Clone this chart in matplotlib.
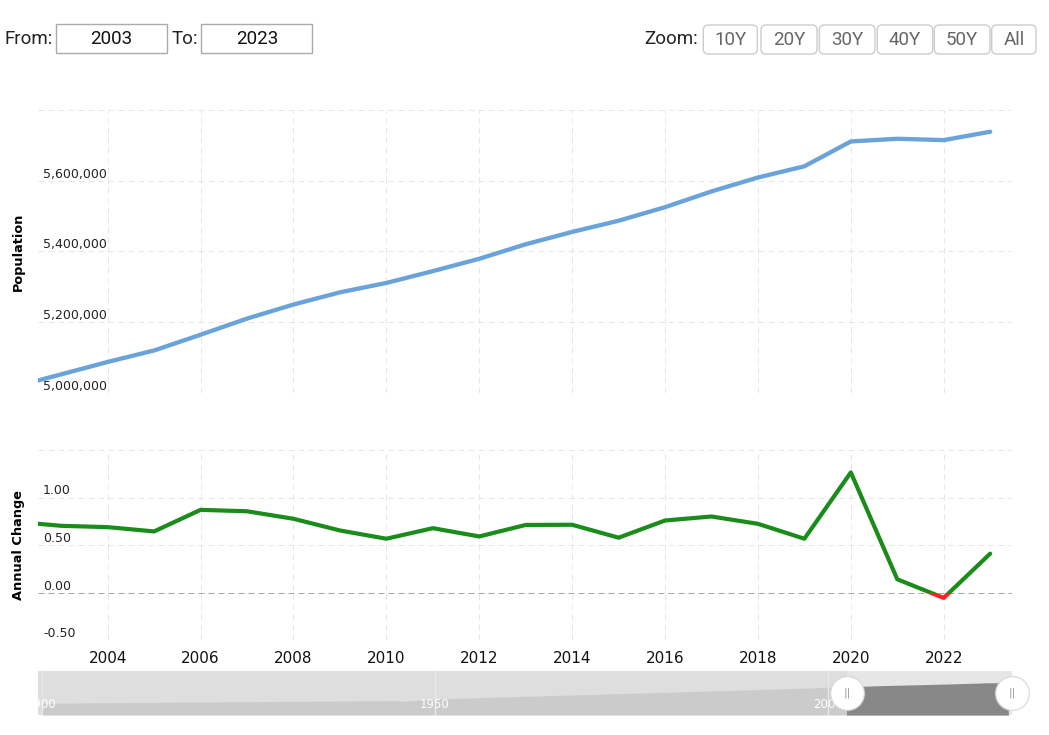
import matplotlib
matplotlib.use("Agg")
import matplotlib.pyplot as plt
from matplotlib.patches import Rectangle, FancyBboxPatch

# ---------------- data ----------------
years = list(range(2002, 2024))
population = [5017000, 5052000, 5087000, 5119500, 5164000, 5209700, 5249500,
              5284000, 5310600, 5344000, 5379000, 5420000, 5455000, 5486600,
              5525000, 5569600, 5609000, 5640700, 5711000, 5718600, 5714700,
              5738500]
annual_change = [0.745, 0.702, 0.688, 0.643, 0.870, 0.855, 0.776, 0.653,
                 0.566, 0.677, 0.590, 0.711, 0.713, 0.577, 0.758, 0.800,
                 0.723, 0.566, 1.264, 0.139, -0.057, 0.409]

# navigator history (long range series)
nav_hist_years = [1900, 1910, 1920, 1930, 1940, 1945, 1946, 1950, 1960,
                  1970, 1980, 1990, 2000, 2001]
nav_hist_pop = [2080000, 2200000, 2300000, 2400000, 2500000, 2560000,
                2440000, 2840000, 3250000, 3650000, 4050000, 4450000,
                4900000, 4980000]

pop_ticks = [5000000, 5200000, 5400000, 5600000, 5800000]
pop_tick_labels = ["5,000,000", "5,200,000", "5,400,000", "5,600,000", ""]
chg_ticks = [-0.5, 0.0, 0.5, 1.0, 1.5]
chg_tick_labels = ["-0.50", "0.00", "0.50", "1.00", ""]
year_ticks = list(range(2004, 2023, 2))
year_tick_labels = [str(y) for y in year_ticks]
nav_ticks = [1900, 1950, 2000]
nav_tick_labels = ["1900", "1950", "2000"]
from_year, to_year = "2003", "2023"
zoom_buttons = ["10Y", "20Y", "30Y", "40Y", "50Y", "All"]

# ---------------- style ----------------
W, H = 1049, 735
BLUE = "#69a3da"
GREEN = "#1a8c1a"
RED = "#ff2020"
GRID = "#e6e6e6"
DASH = (0, (6, 4))
XLIM = (2002.5, 2023.47)
NAV_XLIM = (1899.5, 2023.47)

fig = plt.figure(figsize=(W / 100, H / 100), dpi=100)


def frac(x0, y0, x1, y1):
    return [x0 / W, 1 - y1 / H, (x1 - x0) / W, (y1 - y0) / H]


def style_axes(ax):
    for s in ax.spines.values():
        s.set_visible(False)
    ax.set_facecolor("none")
    ax.grid(True, color=GRID, linestyle=DASH, linewidth=0.72, zorder=0)
    ax.set_axisbelow(True)
    ax.tick_params(axis="both", length=0)
    ax.tick_params(axis="y", pad=-3.6, labelsize=9, labelcolor="#222222")


# ---- top: population ----
ax1 = fig.add_axes(frac(38, 110, 1012, 392.7))
style_axes(ax1)
ax1.plot(years, population, color=BLUE, linewidth=3.1,
         solid_joinstyle="round", solid_capstyle="round", zorder=3)
ax1.set_xlim(*XLIM)
ax1.set_ylim(pop_ticks[0], pop_ticks[-1])
ax1.set_xticks(year_ticks)
ax1.tick_params(axis="x", labelbottom=False)
ax1.set_yticks(pop_ticks, pop_tick_labels, ha="left", va="bottom")
ax1.set_ylabel("Population", fontsize=9.3, fontweight="bold", color="black")
ax1.yaxis.label.set_verticalalignment("center")
ax1.yaxis.set_label_coords(-0.0201, 0.5)

# ---- bottom: annual change ----
ax2 = fig.add_axes(frac(38, 450, 1012, 640))
style_axes(ax2)
ax2.set_xlim(*XLIM)
ax2.set_ylim(chg_ticks[0], chg_ticks[-1])
ax2.axhline(0, color="#a8a8a8", linestyle=DASH, linewidth=0.72, zorder=1)
pos_clip = Rectangle((XLIM[0], 0), XLIM[1] - XLIM[0], chg_ticks[-1],
                     transform=ax2.transData)
neg_clip = Rectangle((XLIM[0], chg_ticks[0]), XLIM[1] - XLIM[0], -chg_ticks[0],
                     transform=ax2.transData)
lg, = ax2.plot(years, annual_change, color=GREEN, linewidth=3.0,
               solid_joinstyle="round", solid_capstyle="round", zorder=3)
lg.set_clip_path(pos_clip)
lr, = ax2.plot(years, annual_change, color=RED, linewidth=3.0,
               solid_joinstyle="round", solid_capstyle="round", zorder=3)
lr.set_clip_path(neg_clip)
ax2.set_xticks(year_ticks, year_tick_labels)
ax2.tick_params(axis="x", pad=8, labelsize=11, labelcolor="#111111")
ax2.set_yticks(chg_ticks, chg_tick_labels, ha="left", va="bottom")
ax2.set_ylabel("Annual Change", fontsize=9.3, fontweight="bold", color="black")
ax2.yaxis.label.set_verticalalignment("center")
ax2.yaxis.set_label_coords(-0.0201, 0.5)

# ---- navigator ----
axn = fig.add_axes(frac(38, 671, 1012, 715))
for s in axn.spines.values():
    s.set_visible(False)
axn.set_facecolor("#dedede")
nav_years = nav_hist_years + years
nav_pop = nav_hist_pop + population
axn.set_xlim(*NAV_XLIM)
axn.set_ylim(0, 7800000)
axn.set_xticks([])
axn.set_yticks([])
axn.fill_between(nav_years, 0, nav_pop, color="#cbcbcb", linewidth=0, zorder=1)
for t in nav_ticks:
    axn.axvline(t, color="#e8e8e8", linewidth=1, zorder=2)
axn.axvspan(XLIM[0], XLIM[1], color="#e6e6e6", linewidth=0, zorder=3)
sel_clip = Rectangle((XLIM[0], 0), XLIM[1] - XLIM[0], 7800000,
                     transform=axn.transData)
sel_fill = axn.fill_between(nav_years, 0, nav_pop, color="#888888",
                            linewidth=0, zorder=4)
sel_fill.set_clip_path(sel_clip)
for t, lab in zip(nav_ticks, nav_tick_labels):
    axn.text(t, 0.25, lab, transform=axn.get_xaxis_transform(), ha="center",
             va="center", fontsize=8.5, color="white", zorder=5, clip_on=True)
for hx in XLIM:
    axn.plot([hx], [0.5], transform=axn.get_xaxis_transform(), marker="o",
             markersize=25.5, markerfacecolor="#d0d0d0", markeredgewidth=0,
             alpha=0.6, clip_on=False, zorder=6)
    axn.plot([hx], [0.5], transform=axn.get_xaxis_transform(), marker="o",
             markersize=24, markerfacecolor="white", markeredgecolor="#dddddd",
             markeredgewidth=0.6, clip_on=False, zorder=7)
    axn.text(hx, 0.5, "||", transform=axn.get_xaxis_transform(), ha="center",
             va="center", fontsize=8, color="#999999", zorder=8, clip_on=False)

# ---- top controls (pixel-space overlay) ----
ui = fig.add_axes([0, 0, 1, 1], zorder=-1)
ui.set_xlim(0, W)
ui.set_ylim(H, 0)
ui.axis("off")
CF = "Roboto"
ui.text(5, 39, "From:", fontsize=13.5, family=CF, ha="left", va="center",
        color="#222222")
ui.add_patch(Rectangle((55.7, 24.3), 111.6, 29, facecolor="white",
                       edgecolor="#aaaaaa", linewidth=1))
ui.text(111.5, 39, from_year, fontsize=13.5, family=CF, ha="center",
        va="center", color="#111111")
ui.text(172, 39, "To:", fontsize=13.5, family=CF, ha="left", va="center",
        color="#222222")
ui.add_patch(Rectangle((201.3, 24.3), 111, 29, facecolor="white",
                       edgecolor="#aaaaaa", linewidth=1))
ui.text(256.8, 39, to_year, fontsize=13.5, family=CF, ha="center",
        va="center", color="#111111")
ui.text(644, 39, "Zoom:", fontsize=13.5, family=CF, ha="left", va="center",
        color="#222222")
btn_x = [703.3, 761.0, 819.3, 877.3, 934.3, 991.7]
btn_w = [54.0, 56.0, 55.7, 55.4, 55.7, 44.3]
for bx, bw, lab in zip(btn_x, btn_w, zoom_buttons):
    ui.add_patch(FancyBboxPatch((bx, 25), bw, 29,
                                boxstyle="round,pad=0,rounding_size=5",
                                facecolor="white", edgecolor="#cccccc",
                                linewidth=1))
    ui.text(bx + bw / 2, 39.5, lab, fontsize=13.5, family=CF, ha="center",
            va="center", color="#666666")

fig.savefig("out.png", dpi=100)
